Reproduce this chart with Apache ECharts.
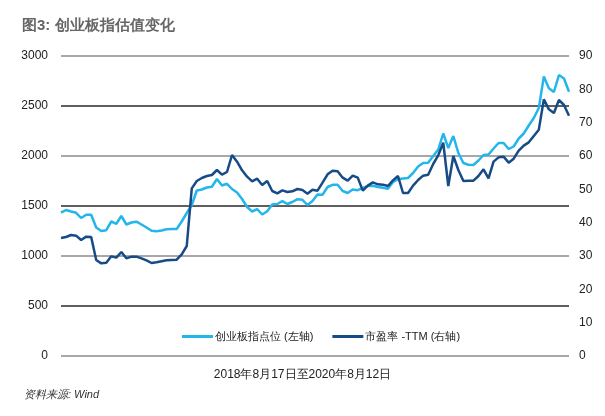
<!DOCTYPE html>
<html>
<head>
<meta charset="utf-8">
<script src="https://cdn.jsdelivr.net/npm/echarts@6/dist/echarts.min.js"></script>
<style>
html,body{margin:0;padding:0;background:#fff;}
#c{width:605px;height:416px;}
</style>
</head>
<body>
<div id="c"></div>
<script>
var titleText = '图3: 创业板指估值变化';
var xAxisTitle = '2018年8月17日至2020年8月12日';
var sourceText = '资料来源: Wind';
var seriesNames = ['创业板指点位 (左轴)', '市盈率 -TTM (右轴)'];

var indexValues = [
1433,1460,1445,1432,1380,1413,1413,1285,1250,1258,
1345,1322,1400,1315,1335,1343,1315,1285,1253,1247,
1255,1268,1270,1270,1345,1430,1510,1655,1665,1685,
1693,1770,1705,1722,1670,1635,1570,1490,1445,1468,
1415,1448,1515,1520,1548,1520,1540,1568,1562,1510,
1550,1615,1612,1690,1712,1713,1650,1630,1665,1658,
1680,1700,1703,1690,1682,1672,1740,1768,1775,1780,
1830,1895,1930,1932,2000,2065,2225,2080,2200,2030,
1930,1912,1910,1955,2010,2015,2075,2130,2130,2070,
2095,2175,2225,2305,2380,2480,2795,2677,2640,2810,
2775,2643
];
var peValues = [
35.4,35.7,36.3,36.1,34.8,35.8,35.7,28.8,27.8,28.0,
29.9,29.5,31.2,29.3,29.8,29.8,29.3,28.7,27.9,28.1,
28.4,28.7,28.8,28.9,30.5,33.0,50.3,52.5,53.4,54.0,
54.3,55.8,54.4,55.2,60.3,58.3,55.7,53.8,52.4,53.2,
51.3,52.5,49.5,48.8,49.7,49.2,49.4,50.1,49.8,48.7,
49.9,49.6,52.0,54.5,55.6,55.4,53.5,52.6,54.1,53.5,
49.6,51.1,52.1,51.5,51.4,51.0,52.7,54.0,48.9,48.9,
51.1,52.8,54.1,54.4,57.6,60.2,64.0,51.0,60.0,55.8,
52.5,52.6,52.6,54.0,56.0,53.3,58.3,59.6,59.8,58.0,
59.2,61.6,63.1,64.1,66.0,67.9,77.0,74.0,72.9,76.8,
75.3,72.1
];
var categories = [];
(function(){
  var d = new Date(2018, 7, 17);
  for (var i = 0; i < indexValues.length; i++) {
    categories.push(d.getFullYear() + '-' + (d.getMonth()+1) + '-' + d.getDate());
    d.setDate(d.getDate() + 7);
  }
})();

var chart = echarts.init(document.getElementById('c'), null, {renderer:'canvas'});
var font = '"Liberation Sans", Arial, sans-serif';
chart.setOption({
  animation: false,
  backgroundColor: '#fff',
  textStyle: {fontFamily: font},
  title: [
    {text: titleText, left: 17, top: 13,
     textStyle: {fontSize: 15, fontWeight: 'bold', color: '#666', fontFamily: font}},
    {text: xAxisTitle, left: 'center', top: 364,
     textStyle: {fontSize: 12, fontWeight: 'normal', color: '#222', fontFamily: font}},
    {text: sourceText, left: 19, top: 384,
     textStyle: {fontSize: 11, fontWeight: 'normal', fontStyle: 'italic', color: '#333', fontFamily: font}}
  ],
  legend: {
    top: 326, left: 177,
    itemWidth: 31, itemHeight: 3, itemGap: 19,
    icon: 'rect',
    textStyle: {fontSize: 11, color: '#222', padding: [0,0,0,-3]},
    data: seriesNames
  },
  grid: {left: 61, right: 36, top: 56, bottom: 60, containLabel: false},
  xAxis: {
    type: 'category', data: categories, boundaryGap: false,
    axisLine: {show: false}, axisTick: {show: false}, axisLabel: {show: false},
    splitLine: {show: false}
  },
  yAxis: [
    {type: 'value', min: 0, max: 3000, interval: 500, position: 'left',
     axisLine: {show: false}, axisTick: {show: false},
     axisLabel: {fontSize: 12, color: '#222', margin: 13, formatter: function(v){ return String(v); }},
     splitLine: {show: true, lineStyle: {color: ['#8a8a8a', '#2a2a2a'], width: 1.5}}},
    {type: 'value', min: 0, max: 90, interval: 10, position: 'right',
     axisLine: {show: false}, axisTick: {show: false},
     axisLabel: {fontSize: 12, color: '#222', margin: 10, formatter: function(v){ return String(v); }},
     splitLine: {show: false}}
  ],
  series: [
    {name: seriesNames[0], type: 'line', yAxisIndex: 0, data: indexValues,
     symbol: 'none', lineStyle: {color: '#23b6ea', width: 2.5}, itemStyle: {color: '#23b6ea'}, z: 2},
    {name: seriesNames[1], type: 'line', yAxisIndex: 1, data: peValues,
     symbol: 'none', lineStyle: {color: '#174b87', width: 2.5}, itemStyle: {color: '#174b87'}, z: 3}
  ]
});
</script>
</body>
</html>
